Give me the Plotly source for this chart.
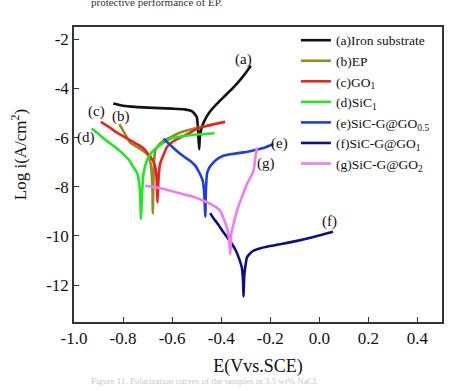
import plotly.graph_objects as go

# ---- data ----
names = ["(a)Iron substrate", "(b)EP", "(c)GO<sub>1</sub>", "(d)SiC<sub>1</sub>",
         "(e)SiC-G@GO<sub>0.5</sub>", "(f)SiC-G@GO<sub>1</sub>", "(g)SiC-G@GO<sub>2</sub>"]
colors = ["#111111", "#8f8f1c", "#ee2020", "#22e622", "#1e3fde", "#0e0e88", "#f07cf0"]

a_x = [-0.84, -0.80, -0.75, -0.70, -0.65, -0.60, -0.55, -0.52, -0.50, -0.495, -0.490,
       -0.487, -0.480, -0.470, -0.450, -0.420, -0.390, -0.350, -0.310, -0.279]
a_y = [-4.61, -4.70, -4.75, -4.78, -4.80, -4.82, -4.85, -4.92, -5.15, -5.60, -6.47,
       -6.00, -5.60, -5.35, -5.00, -4.65, -4.35, -3.96, -3.50, -3.08]

b_x = [-0.815, -0.795, -0.771, -0.740, -0.717, -0.700, -0.690, -0.684, -0.680, -0.679,
       -0.675, -0.669, -0.655, -0.635, -0.600, -0.567, -0.520, -0.472, -0.440]
b_y = [-5.45, -5.80, -6.20, -6.40, -6.54, -6.70, -6.94, -7.40, -8.20, -9.08,
       -7.40, -6.54, -6.30, -6.13, -5.95, -5.79, -5.66, -5.55, -5.50]

c_x = [-0.890, -0.860, -0.826, -0.790, -0.744, -0.715, -0.697, -0.680, -0.669, -0.663, -0.660,
       -0.655, -0.649, -0.635, -0.622, -0.600, -0.567, -0.530, -0.500, -0.450, -0.384]
c_y = [-5.36, -5.55, -5.79, -6.00, -6.26, -6.45, -6.67, -6.90, -7.20, -7.70, -8.64,
       -7.60, -7.07, -6.70, -6.40, -6.18, -6.00, -5.82, -5.65, -5.50, -5.36]

d_x = [-0.928, -0.900, -0.867, -0.830, -0.799, -0.775, -0.758, -0.745, -0.738, -0.731, -0.727,
       -0.722, -0.717, -0.703, -0.685, -0.662, -0.630, -0.595, -0.560, -0.527, -0.480, -0.427]
d_y = [-5.63, -5.85, -6.13, -6.40, -6.67, -6.92, -7.20, -7.40, -7.62, -8.20, -9.31,
       -8.20, -7.48, -6.94, -6.62, -6.40, -6.18, -6.00, -5.95, -5.90, -5.86, -5.82]

e_x = [-0.635, -0.610, -0.581, -0.555, -0.527, -0.505, -0.493, -0.483, -0.475, -0.469, -0.465,
       -0.462, -0.458, -0.450, -0.438, -0.420, -0.391, -0.350, -0.309, -0.270, -0.227, -0.187]
e_y = [-6.04, -6.28, -6.54, -6.75, -6.94, -7.15, -7.35, -7.55, -7.76, -8.30, -9.22,
       -8.10, -7.48, -7.25, -7.08, -6.90, -6.74, -6.66, -6.60, -6.52, -6.42, -6.26]

f_x = [-0.445, -0.430, -0.418, -0.390, -0.356, -0.340, -0.329, -0.316, -0.311, -0.309,
       -0.306, -0.300, -0.295, -0.283, -0.268, -0.240, -0.214, -0.150, -0.091, -0.020, 0.056]
f_y = [-9.07, -9.30, -9.45, -9.86, -10.33, -10.60, -10.87, -11.28, -11.80, -12.46,
       -11.60, -11.14, -10.87, -10.72, -10.60, -10.50, -10.44, -10.32, -10.20, -10.03, -9.83]

g_x = [-0.710, -0.670, -0.635, -0.600, -0.554, -0.510, -0.472, -0.440, -0.404, -0.390, -0.377,
       -0.368, -0.363, -0.361, -0.359, -0.348, -0.336, -0.315, -0.295, -0.280, -0.268, -0.261, -0.254]
g_y = [-7.96, -8.02, -8.09, -8.18, -8.30, -8.42, -8.57, -8.72, -8.98, -9.30, -9.65,
       -10.10, -10.74, -10.30, -9.92, -9.45, -8.98, -8.40, -7.89, -7.60, -7.35, -6.81, -6.40]

series_x = [a_x, b_x, c_x, d_x, e_x, f_x, g_x]
series_y = [a_y, b_y, c_y, d_y, e_y, f_y, g_y]

curve_labels = ["(a)", "(b)", "(c)", "(d)", "(e)", "(f)", "(g)"]
label_x = [-0.310, -0.810, -0.910, -0.950, -0.163, 0.042, -0.216]
label_y = [-2.84, -5.15, -4.95, -6.00, -6.24, -9.42, -7.05]

x_ticks = [-1.0, -0.8, -0.6, -0.4, -0.2, 0.0, 0.2, 0.4]
x_tick_text = ["-1.0", "-0.8", "-0.6", "-0.4", "-0.2", "0.0", "0.2", "0.4"]
y_ticks = [-2, -4, -6, -8, -10, -12]
y_tick_text = ["-2", "-4", "-6", "-8", "-10", "-12"]

SERIF = "Liberation Serif, Times New Roman, serif"

fig = go.Figure()
for nm, col, xs, ys in zip(names, colors, series_x, series_y):
    fig.add_trace(go.Scatter(x=xs, y=ys, mode="lines", name=nm,
                             line=dict(color=col, width=2.6, shape="spline", smoothing=0.6)))

for t, lx, ly in zip(curve_labels, label_x, label_y):
    fig.add_annotation(x=lx, y=ly, text=t, showarrow=False,
                       font=dict(family=SERIF, size=15, color="#111"))

# y title, caption texts
fig.add_annotation(xref="paper", yref="paper", x=-0.149, y=0.566, xanchor="center", yanchor="middle",
                   text="Log i(A/cm<sup>2</sup>)",
                   textangle=-90, showarrow=False, font=dict(family=SERIF, size=17, color="#111"))
fig.add_annotation(xref="paper", yref="paper", x=0.04, y=1.085, xanchor="left", yanchor="middle",
                   text="protective performance of EP.", showarrow=False,
                   font=dict(family=SERIF, size=11, color="#333"))
fig.add_annotation(xref="paper", yref="paper", x=0.04, y=-0.225, xanchor="left",
                   text="Figure 11. Polarization curves of the samples in 3.5 wt% NaCl.", showarrow=False,
                   font=dict(family=SERIF, size=9, color="#c8c8c8"))

axis_common = dict(showgrid=False, zeroline=False, showline=True, linecolor="#333",
                   linewidth=1.5, mirror=True, ticks="inside", ticklen=5, tickwidth=1.3,
                   tickcolor="#333", tickfont=dict(family=SERIF, size=17, color="#111"))

fig.update_xaxes(range=[-1.0, 0.5], tickvals=x_ticks, ticktext=x_tick_text,
                 title=dict(text="E(Vvs.SCE)", font=dict(family=SERIF, size=18, color="#111"), standoff=12),
                 **axis_common)
fig.update_yaxes(range=[-13.5, -1.5], tickvals=y_ticks, ticktext=y_tick_text, **axis_common)

fig.update_layout(
    width=474, height=391,
    margin=dict(l=74, r=32, t=27, b=69),
    paper_bgcolor="white", plot_bgcolor="white",
    showlegend=True,
    legend=dict(x=0.603, y=1.007, xanchor="left", yanchor="top", bgcolor="rgba(0,0,0,0)",
                font=dict(family=SERIF, size=13.5, color="#111"), itemwidth=30,
                tracegroupgap=0),
    hovermode=False,
)

fig.write_html("out.html", config={"displayModeBar": False},
               post_script="document.body.style.margin='0';document.body.style.padding='0';")
